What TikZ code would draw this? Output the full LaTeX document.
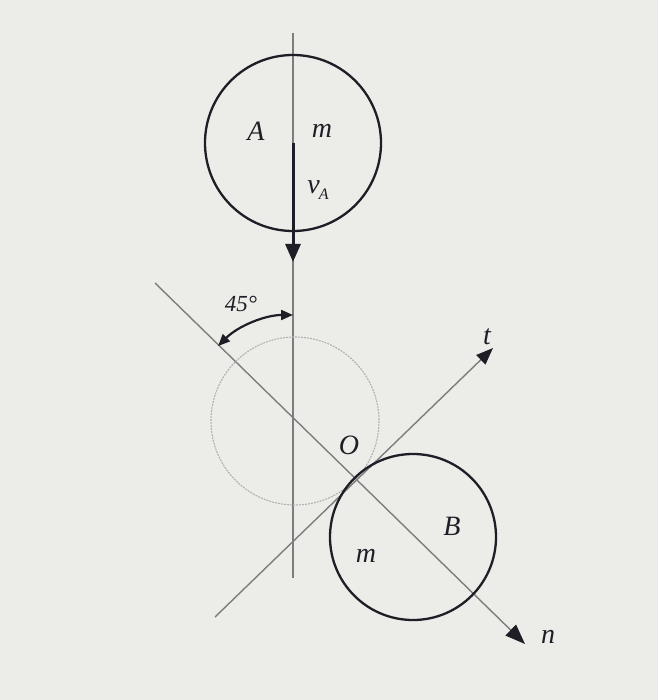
\documentclass[tikz,border=0pt]{standalone}
\usepackage{fontspec}
\setmainfont{Liberation Serif}
\usetikzlibrary{arrows.meta}
\definecolor{bg}{RGB}{236,236,232}
\definecolor{axis}{RGB}{125,125,125}
\definecolor{ink}{RGB}{30,30,38}
\definecolor{ghost}{RGB}{178,178,178}
\begin{document}
\begin{tikzpicture}[x=1pt,y=-1pt,
  axisline/.style={draw=axis,line width=1.4pt},
  body/.style={draw=ink,line width=2.3pt},
  ghostbody/.style={draw=ghost,line width=1.1pt,dash pattern=on 2pt off 1pt},
  lbl/.style={font=\fontsize{28}{32}\selectfont\itshape,text=ink,inner sep=0pt}
]
\useasboundingbox (0,0) rectangle (658,700);
\fill[bg] (0,0) rectangle (658,700);
% key points
\coordinate (vtop) at (293,33);
\coordinate (vbot) at (293,578);
\coordinate (cA) at (293,143);
\coordinate (vtip) at (293,262);
\coordinate (nstart) at (155,283);
\coordinate (nend) at (525,644);
\coordinate (tstart) at (215,617);
\coordinate (ttip) at (493,348);
\coordinate (cG) at (295,421);
\coordinate (cB) at (413,537);
\coordinate (arcR) at (293,315);
% axes
\draw[axisline] (vtop) -- (vbot);
\draw[axisline,-{Triangle[length=20pt,width=15pt,color=ink]}] (nstart) -- (nend);
\draw[axisline,-{Triangle[length=17pt,width=13pt,color=ink]}] (tstart) -- (ttip);
% circles
\draw[body] (cA) circle[radius=88];
\draw[ghostbody] (cG) circle[radius=84];
\draw[body] (cB) circle[radius=83];
% velocity arrow
\draw[draw=ink,line width=3pt,-{Triangle[length=18pt,width=15pt]}] (cA) -- (vtip);
% angle arc
\draw[draw=ink,line width=2.2pt,{Triangle[length=12pt,width=10pt]}-{Triangle[length=12pt,width=10pt]}]
  (arcR) arc[start angle=270, end angle=225, radius=106];
% labels
\node[lbl] (labA) at (256,131) {A};
\node[lbl] (labm1) at (322,131) {m};
\node[lbl] (labv) at (318,190) {v\kern-1pt\raisebox{-6pt}{\fontsize{16}{17}\selectfont A}};
\node[lbl,font=\fontsize{23}{26}\selectfont\itshape] (lab45) at (241,304) {45°};
\node[lbl] (labt) at (487,337) {t};
\node[lbl] (labO) at (349,445) {O};
\node[lbl] (labB) at (452,526) {B};
\node[lbl] (labm2) at (366,556) {m};
\node[lbl] (labn) at (548,637) {n};
\end{tikzpicture}
\end{document}
